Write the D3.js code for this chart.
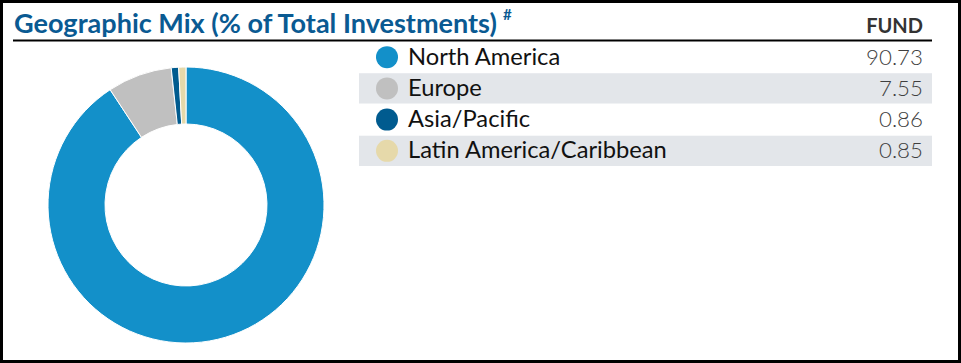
<!DOCTYPE html>
<html><head><meta charset="utf-8">
<script src="https://cdn.jsdelivr.net/npm/d3@7"></script>
<style>
html,body{margin:0;padding:0;background:#fff;}
svg{display:block;}
</style></head>
<body>
<svg id="c" width="961" height="363"></svg>
<script>
const categories = ["North America", "Europe", "Asia/Pacific", "Latin America/Caribbean"];
const values = [90.73, 7.55, 0.86, 0.85];
const valueLabels = ["90.73", "7.55", "0.86", "0.85"];
const colors = ["#1390c9", "#c0c0c0", "#005b8f", "#e6d9aa"];
const titleText = "Geographic Mix (% of Total Investments)";
const columnHeader = "FUND";

const svg = d3.select("#c");
const W = 961, H = 363;

// border
svg.append("rect").attr("x", 1.5).attr("y", 1.5).attr("width", W - 3).attr("height", H - 3)
  .attr("fill", "#fff").attr("stroke", "#000").attr("stroke-width", 3);

function fitWidth(sel, target) {
  const w = sel.node().getComputedTextLength();
  const fs = parseFloat(sel.attr("font-size"));
  sel.attr("font-size", fs * target / w);
}

// title
const title = svg.append("text").attr("x", 14).attr("y", 33)
  .attr("font-family", "Lato, 'Open Sans', sans-serif").attr("font-weight", 700)
  .attr("font-size", 24).attr("fill", "#0a5a92").text(titleText);
fitWidth(title, 483);
svg.append("text").attr("x", 503).attr("y", 20)
  .attr("font-family", "Lato, sans-serif").attr("font-weight", 700)
  .attr("font-size", 15).attr("fill", "#0a5a92").text("#");

svg.append("text").attr("x", 923).attr("y", 33).attr("text-anchor", "end")
  .attr("font-family", "Lato, 'Open Sans', sans-serif").attr("font-weight", 700)
  .attr("font-size", 20).attr("fill", "#333").text(columnHeader);

svg.append("line").attr("x1", 13).attr("x2", 932).attr("y1", 40.5).attr("y2", 40.5)
  .attr("stroke", "#000").attr("stroke-width", 2);

// donut
const cx = 186, cy = 205, rOuter = 138, rInner = 81;
const pie = d3.pie().sort(null).value(d => d)(values);
const arc = d3.arc().innerRadius(rInner).outerRadius(rOuter);
const g = svg.append("g").attr("transform", `translate(${cx},${cy})`);
g.selectAll("path").data(pie).join("path")
  .attr("d", arc).attr("fill", (d, i) => colors[i])
  .attr("stroke", "#fff").attr("stroke-width", 1);

// legend table
const y = d3.scaleBand().domain(categories).range([42, 166]).paddingInner(0.03);
const rows = svg.append("g").selectAll("g").data(categories).join("g")
  .attr("transform", d => `translate(0,${y(d)})`);
rows.append("rect").attr("x", 359).attr("width", 573).attr("height", y.bandwidth())
  .attr("fill", (d, i) => i % 2 ? "#e3e6ea" : "none");
rows.append("circle").attr("cx", 387).attr("cy", y.bandwidth() / 2).attr("r", 11)
  .attr("fill", (d, i) => colors[i]);
const labels = rows.append("text").attr("x", 408).attr("y", y.bandwidth() / 2 + 7.5)
  .attr("font-family", "Lato, 'Open Sans', sans-serif").attr("font-size", 21)
  .attr("fill", "#111").text(d => d);
fitWidth(d3.select(labels.nodes()[3]), 259);
labels.attr("font-size", d3.select(labels.nodes()[3]).attr("font-size"));
const vals = rows.append("text").attr("x", 923).attr("y", y.bandwidth() / 2 + 7.5)
  .attr("text-anchor", "end")
  .attr("font-family", "Lato, 'Open Sans', sans-serif").attr("font-weight", 300).attr("font-size", 21)
  .attr("fill", "#3f3f3f").text((d, i) => valueLabels[i]);
fitWidth(d3.select(vals.nodes()[0]), 57);
vals.attr("font-size", d3.select(vals.nodes()[0]).attr("font-size"));
</script>
</body></html>
